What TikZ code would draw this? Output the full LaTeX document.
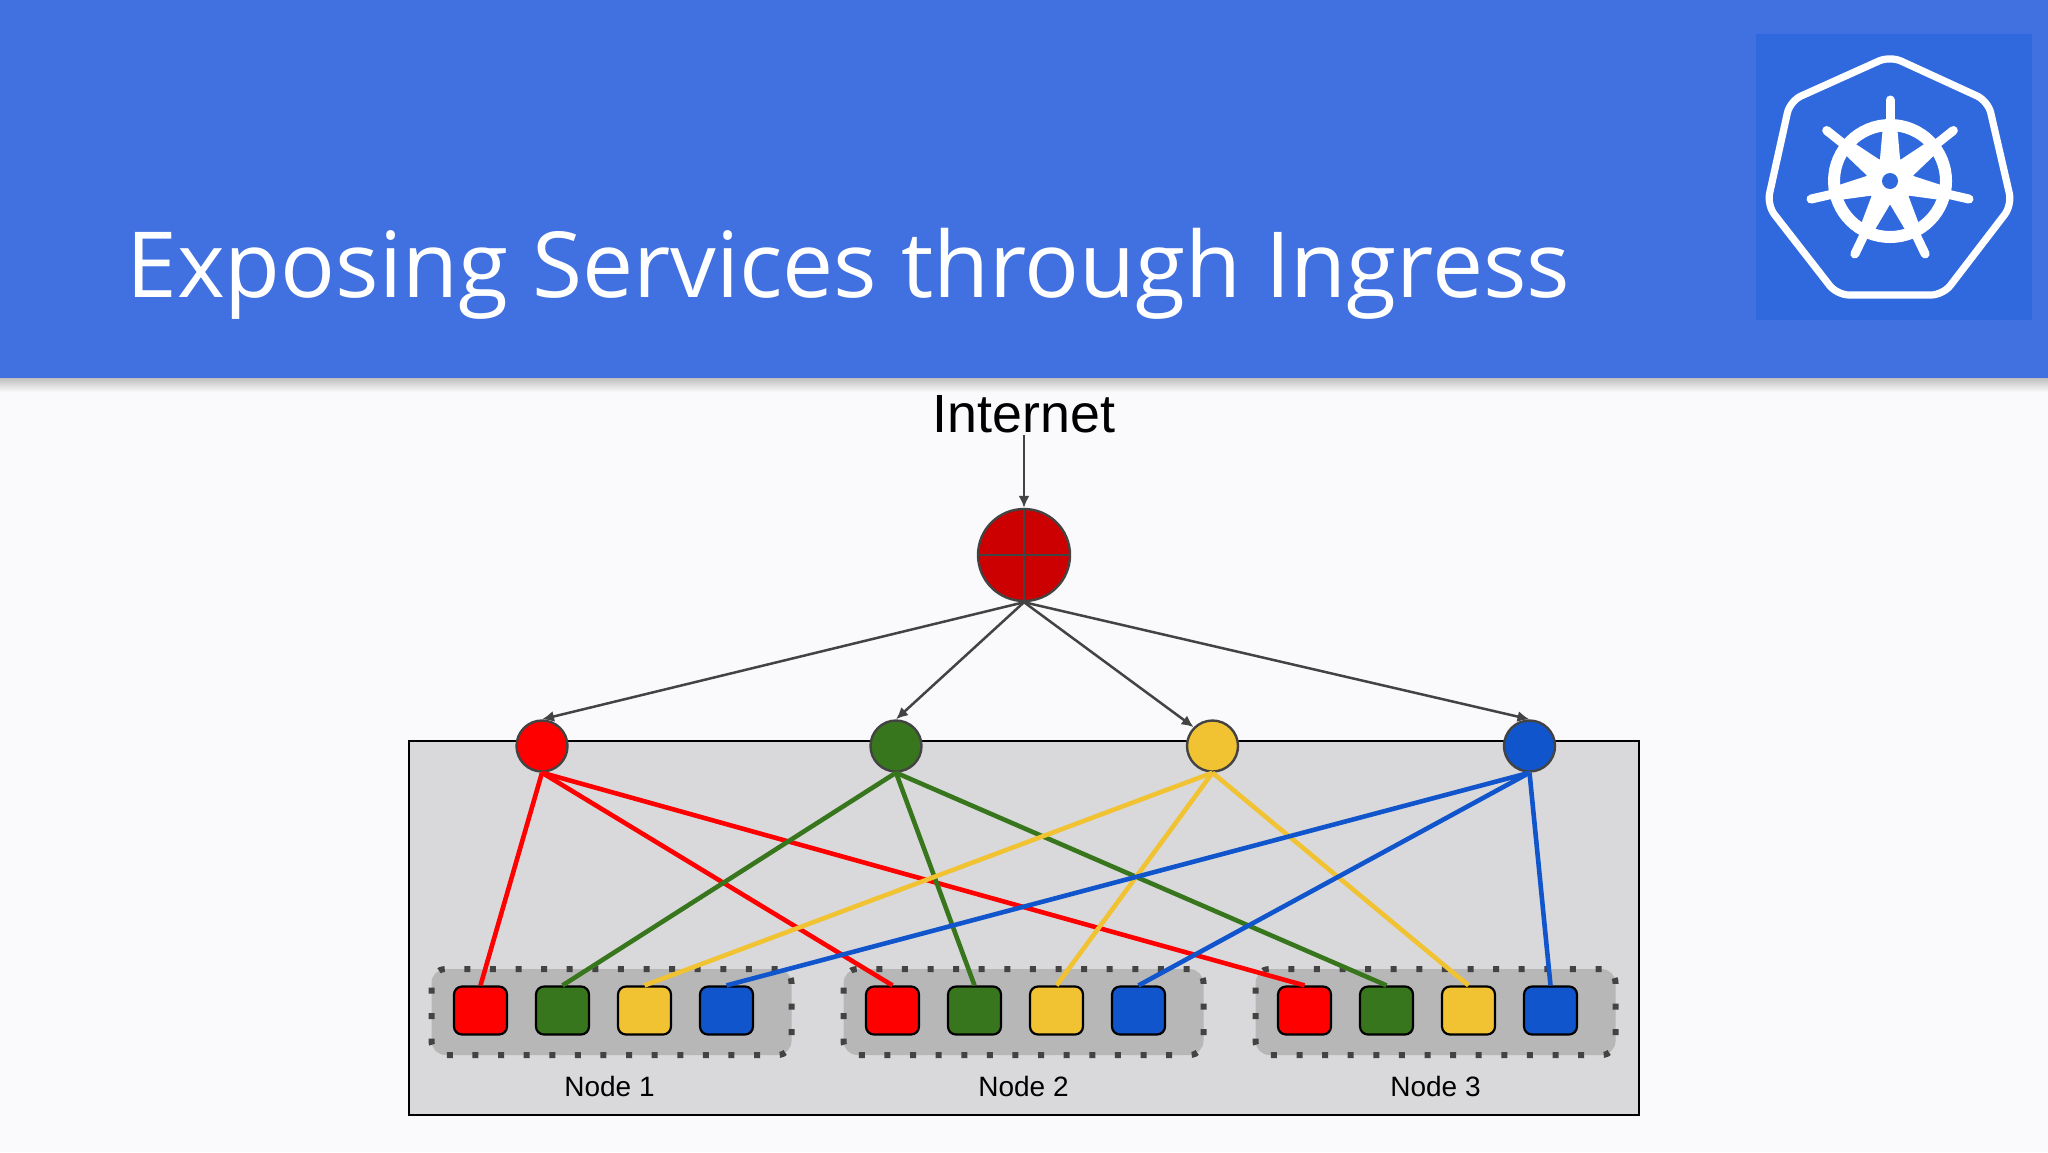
\documentclass[tikz,border=0pt]{standalone}
\usepackage{fontspec}
\setmainfont{Liberation Sans}
\newfontfamily\titlefont{Open Sans}
\usetikzlibrary{positioning,shapes}
\usetikzlibrary{arrows.meta}
\definecolor{pagebg}{HTML}{FAFAFC}
\definecolor{headerblue}{HTML}{4170E0}
\definecolor{logoblue}{HTML}{3069DE}
\definecolor{wire}{HTML}{434343}
\definecolor{clustergray}{HTML}{D9D9DB}
\definecolor{nodegray}{HTML}{B7B7B7}
\definecolor{svcred}{HTML}{FF0000}
\definecolor{svcgreen}{HTML}{38761D}
\definecolor{svcyellow}{HTML}{F1C232}
\definecolor{svcblue}{HTML}{1155CC}

\begin{document}
\begin{tikzpicture}
[x=0.5pt, y=-0.5pt, >={Latex[length=6pt,width=5.5pt]},
% The hub style is used to draw the big balancer and the service circles
hub/.style={circle, draw=wire, line width=1.2pt, inner sep=0pt, minimum size=25.5pt},
% The pod style is used to draw the small squares of each node
pod/.style={rectangle, draw=black, line width=1.1pt, rounded corners=4pt, minimum width=26.5pt, minimum height=24pt, inner sep=0pt},
% The worker style is used to draw the dotted boxes
worker/.style={rectangle, fill=nodegray, draw=wire, line width=3pt, dash pattern=on 3pt off 9.8pt, rounded corners=7pt, minimum width=180pt, minimum height=43pt, inner sep=0pt},
caption/.style={font=\fontsize{14}{16}\selectfont, inner sep=0pt},
feed/.style={->, draw=wire, line width=1.25pt},
link/.style={line width=2.3pt}
]
\useasboundingbox (0,0) rectangle (2048,1152);
% Draw page and header
\fill[pagebg] (0,0) rectangle (2048,1152);
\shade[top color=black!25, bottom color=pagebg] (0,378) rectangle (2048,392);
\fill[headerblue] (0,0) rectangle (2048,378);
\node [anchor=base west, inner sep=0pt, text=white, font=\titlefont\fontsize{45.6}{52}\selectfont] (title) at (126,297) {Exposing Services through Ingress};

% Draw logo
\fill[logoblue] (1756,34) rectangle (2032,320);
\draw[white, line width=3.6pt, rounded corners=6pt] (1890,56) -- (1988,101) -- (2012,205) -- (1943,295) -- (1837,295) -- (1767,205) -- (1790,101) -- cycle;
\draw[white, line width=6pt] (1890,181) circle (56);
\foreach \a in {-90,-38.57,12.86,64.29,115.71,167.14,218.57}{
  \fill[white, rotate around={\a+90:(1890,181)}] (1878,181) -- (1902,181) -- (1897,125) -- (1883,125) -- cycle;
  \draw[white, line width=4.5pt, line cap=round, rotate around={\a+90:(1890,181)}] (1890,125) -- (1890,100);
}
\fill[white] (1890,181) circle (24);
\fill[logoblue] (1890,181) circle (8);

% Draw cluster
\node [rectangle, draw=black, line width=1pt, fill=clustergray, minimum width=615pt, minimum height=187pt, inner sep=0pt] (cluster) at (1024,927.5) {};

% Draw nodes
\node [worker] (worker1) at (611.5,1012) {};
\node [worker] (worker2) at (1023.5,1012) {};
\node [worker] (worker3) at (1435.5,1012) {};
\node [caption, below=9pt of worker1.south, xshift=-1pt] (label1) {Node 1};
\node [caption, below=9pt of worker2.south] (label2) {Node 2};
\node [caption, below=9pt of worker3.south] (label3) {Node 3};

% Draw pods
\node [pod, fill=svcred] (red1) at (480.5,1010.5) {};
\node [pod, fill=svcgreen, right=13.4pt of red1] (green1) {};
\node [pod, fill=svcyellow, right=13.4pt of green1] (yellow1) {};
\node [pod, fill=svcblue, right=13.4pt of yellow1] (blue1) {};
\node [pod, fill=svcred] (red2) at (892.5,1010.5) {};
\node [pod, fill=svcgreen, right=13.4pt of red2] (green2) {};
\node [pod, fill=svcyellow, right=13.4pt of green2] (yellow2) {};
\node [pod, fill=svcblue, right=13.4pt of yellow2] (blue2) {};
\node [pod, fill=svcred] (red3) at (1304.5,1010.5) {};
\node [pod, fill=svcgreen, right=13.4pt of red3] (green3) {};
\node [pod, fill=svcyellow, right=13.4pt of green3] (yellow3) {};
\node [pod, fill=svcblue, right=13.4pt of yellow3] (blue3) {};

% Draw services
\node [hub, fill=svcred] (svcA) at (542,746) {};
\node [hub, fill=svcgreen] (svcB) at (896,746) {};
\node [hub, fill=svcyellow] (svcC) at (1212.5,746) {};
\node [hub, fill=svcblue] (svcD) at (1529.5,746) {};

% Draw balancer
\node [anchor=base, inner sep=1pt, font=\fontsize{26.9}{30}\selectfont] (internet) at (1024,432) {Internet};
\node [hub, fill=red!80!black, minimum size=46pt] (balancer) at (1024,555) {};
\draw[wire, line width=1.2pt] (balancer.north)--(balancer.south);
\draw[wire, line width=1.2pt] (balancer.west)--(balancer.east);

% Draw connectors
\draw[feed](internet)--(balancer);
\draw[feed](balancer.south)--(svcA.north);
\draw[feed](balancer.south)--(svcB.north);
\draw[feed](balancer.south)--(svcC.north west);
\draw[feed](balancer.south)--(svcD.north);

\draw[link, svcred](svcA.south)--(red1.north);
\draw[link, svcred](svcA.south)--(red2.north);
\draw[link, svcred](svcA.south)--(red3.north);
\draw[link, svcgreen](svcB.south)--(green1.north);
\draw[link, svcgreen](svcB.south)--(green2.north);
\draw[link, svcgreen](svcB.south)--(green3.north);
\draw[link, svcyellow](svcC.south)--(yellow1.north);
\draw[link, svcyellow](svcC.south)--(yellow2.north);
\draw[link, svcyellow](svcC.south)--(yellow3.north);
\draw[link, svcblue](svcD.south)--(blue1.north);
\draw[link, svcblue](svcD.south)--(blue2.north);
\draw[link, svcblue](svcD.south)--(blue3.north);
\end{tikzpicture}
\end{document}
